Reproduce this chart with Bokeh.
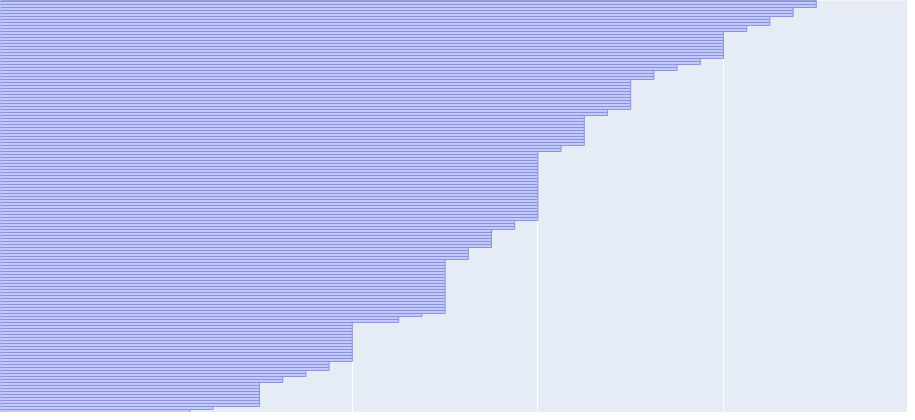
from bokeh.plotting import figure
from bokeh.models import Range1d, FixedTicker, ColumnDataSource
from bokeh.embed import file_html
from bokeh.resources import INLINE

# One value per horizontal bar, top to bottom
values = [
    36, 36, 36, 36, 36,
    35, 35, 35,
    34, 34, 34,
    33, 33,
    32, 32, 32, 32, 32, 32, 32, 32, 32,
    31, 31,
    30, 30,
    29, 29, 29,
    28, 28, 28, 28, 28, 28, 28, 28, 28, 28,
    27, 27,
    26, 26, 26, 26, 26, 26, 26, 26, 26, 26,
    25, 25,
    24, 24, 24, 24, 24, 24, 24, 24, 24, 24, 24, 24,
    24, 24, 24, 24, 24, 24, 24, 24, 24, 24, 24,
    23, 23, 23,
    22, 22, 22, 22, 22, 22,
    21, 21, 21, 21,
    20, 20, 20, 20, 20, 20, 20, 20, 20, 20, 20, 20, 20, 20, 20, 20, 20, 20,
    19,
    18, 18,
    16, 16, 16, 16, 16, 16, 16, 16, 16, 16, 16, 16, 16,
    15, 15, 15,
    14, 14,
    13, 13,
    12, 12, 12, 12, 12, 12, 12, 12,
    10,
    9, 9,
]
grid_ticks = [8, 16, 24, 32]

rows = [i + 0.5 for i in range(len(values))]
src = ColumnDataSource(dict(y=rows, right=values))

p = figure(width=907, height=412, output_backend="svg", toolbar_location=None,
           x_range=Range1d(0.836, 39.931), y_range=Range1d(140.0, 2.667),
           min_border=0, x_axis_location=None, y_axis_location=None,
           background_fill_color="#E5ECF6", border_fill_color="#E5ECF6",
           outline_line_color=None)

p.hbar(y="y", right="right", left=0, height=1.0, source=src,
       fill_color="#C4CAFB", line_color="#8A93DA", line_width=1)

p.xgrid.ticker = FixedTicker(ticks=grid_ticks)
p.xgrid.grid_line_color = "white"
p.xgrid.grid_line_width = 1
p.ygrid.grid_line_color = None

open("out.html", "w").write(file_html(p, INLINE))
